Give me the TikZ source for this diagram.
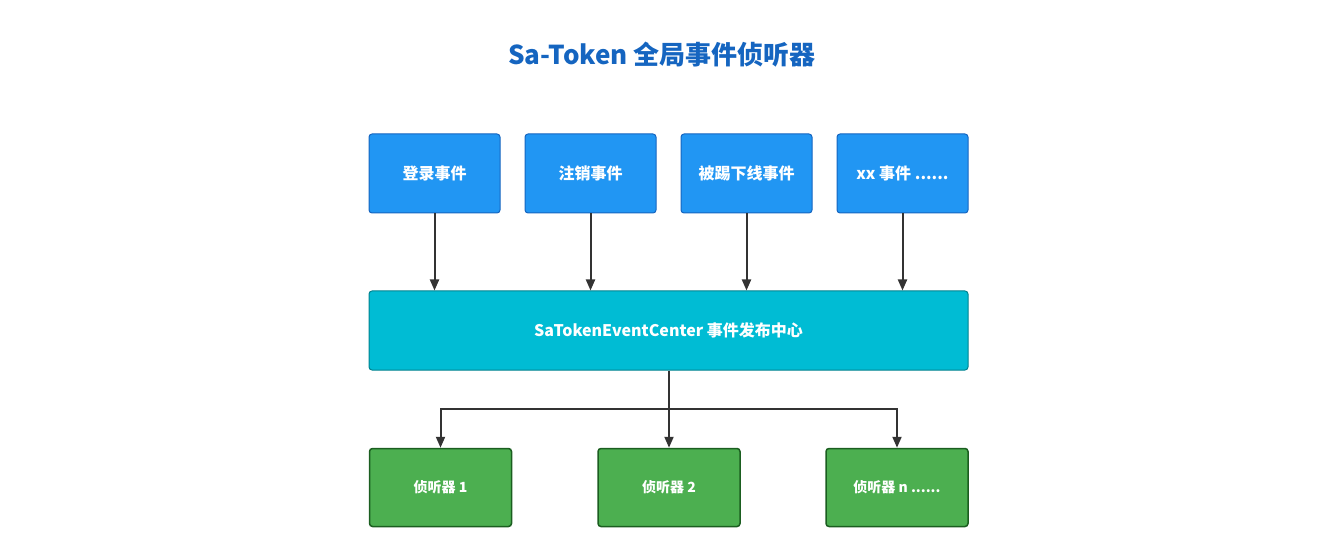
\documentclass[tikz,border=0pt]{standalone}
\usepackage{fontspec}
\setmainfont{Noto Sans CJK SC}
\usetikzlibrary{arrows.meta}
\definecolor{titleblue}{HTML}{1565C0}
\definecolor{evfill}{HTML}{2196F3}
\definecolor{evdraw}{HTML}{1565C0}
\definecolor{cfill}{HTML}{00BCD4}
\definecolor{cdraw}{HTML}{00838F}
\definecolor{gfill}{HTML}{4CAF50}
\definecolor{gdraw}{HTML}{1B5E20}
\definecolor{arrcol}{HTML}{333333}
\tikzset{
  evbox/.style={draw=evdraw, fill=evfill, line width=1pt, rounded corners=3pt,
    minimum width=131pt, minimum height=79pt, text=white, font=\fontsize{16}{19}\selectfont\bfseries, inner sep=0pt},
  cbox/.style={draw=cdraw, fill=cfill, line width=1pt, rounded corners=3pt,
    minimum width=599pt, minimum height=79pt, text=white, font=\fontsize{16}{19}\selectfont\bfseries, inner sep=0pt},
  lbox/.style={draw=gdraw, fill=gfill, line width=1.5pt, rounded corners=3pt,
    minimum width=142pt, minimum height=78pt, text=white, font=\fontsize{14}{17}\selectfont\bfseries, inner sep=0pt},
  arr/.style={draw=arrcol, line width=2pt, -{Triangle[length=11pt,width=9pt]}},
}
\begin{document}
\begin{tikzpicture}[x=1pt,y=-1pt]
\useasboundingbox (0,0) rectangle (1325,553);
\node[text=titleblue, font=\fontsize{26}{31}\selectfont\bfseries] (title) at (662,55) {Sa-Token 全局事件侦听器};
\node[evbox] (e1) at (434.5,173.5) {登录事件};
\node[evbox] (e2) at (590.5,173.5) {注销事件};
\node[evbox] (e3) at (746.5,173.5) {被踢下线事件};
\node[evbox] (e4) at (902.5,173.5) {xx 事件 ......};
\node[cbox] (c) at (668.5,330.5) {SaTokenEventCenter 事件发布中心};
\node[lbox] (l1) at (440.5,487.5) {侦听器 1};
\node[lbox] (l2) at (669,487.5) {侦听器 2};
\node[lbox] (l3) at (897,487.5) {侦听器 n ......};
\foreach \i in {1,2,3,4}{\draw[arr] (e\i.south) -- (e\i.south |- c.north);}
\coordinate (hub) at (669,409);
\draw[arr] (hub |- c.south) -- (l2.north);
\draw[arr] (hub) -| (l1.north);
\draw[arr] (hub) -| (l3.north);
\end{tikzpicture}
\end{document}
